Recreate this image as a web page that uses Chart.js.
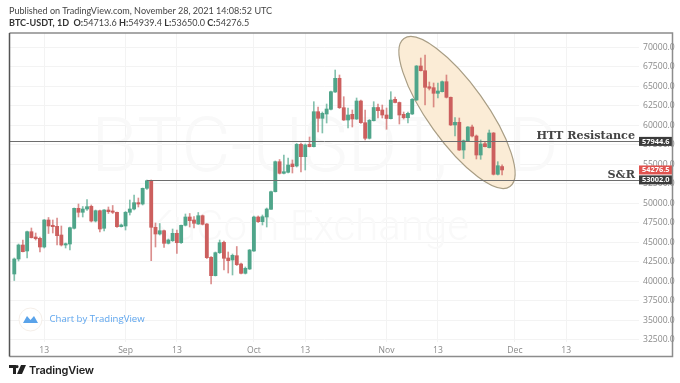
<!DOCTYPE html>
<html>
<head>
<meta charset="utf-8">
<title>BTC-USDT, 1D</title>
<script src="https://cdn.jsdelivr.net/npm/chart.js@4"></script>
<style>
  html, body { margin: 0; padding: 0; background: #fff; }
  #wrap { position: relative; width: 680px; height: 383px; overflow: hidden; filter: blur(.4px); }
  canvas { position: absolute; left: 0; top: 0; }
  .head { position: absolute; left: 9px; color: #444; font: 9.05px Lato, sans-serif; white-space: nowrap; }
  .head b { font-weight: 700; color: #333; }
  #foot { position: absolute; left: 29px; top: 363px; color: #222; font: 600 11px Inter, sans-serif; letter-spacing: -0.2px; }
  #tvmark { position: absolute; left: 9px; top: 365px; }
</style>
</head>
<body>
<div id="wrap">
  <canvas id="c" width="680" height="383"></canvas>
  <div class="head" style="top:5px">Published on TradingView.com, November 28, 2021 14:08:52 UTC</div>
  <div class="head" style="top:17px"><b>BTC-USDT, 1D&nbsp; O:</b>54713.6 <b>H:</b>54939.4 <b>L:</b>53650.0 <b>C:</b>54276.5</div>
  <svg id="tvmark" width="18" height="10" viewBox="0 0 18 10"><path d="M0 0h7v9H4V3H0zM8 9l4-9h5l-4 9zM8 0a1.6 1.6 0 1 1 0 3.2A1.6 1.6 0 0 1 8 0z" fill="#222"/></svg>
  <div id="foot">TradingView</div>
</div>
<script>
// Daily candles, 6 Aug - 28 Nov 2021
const opens = [40917,42843,44641,43871,46349,45668,45501,44384,47851,47171,47042,45925,44641,44769,46786,49353,48840,49263,49610,47723,49045,46786,49135,49007,48840,46991,47081,48840,49263,50073,49905,51921,52897,46914,46053,46476,44859,45193,46143,44936,47171,48236,47851,47337,48404,47337,43062,40699,43652,44987,42972,42715,43267,42201,41007,41559,43871,48236,47633,48236,49224,51484,55337,53847,53976,55041,54785,57571,55979,57571,57263,61757,60909,61461,62065,64286,66045,62270,60691,61423,60819,63130,60345,58341,60601,62296,61975,61333,60858,63349,62938,61423,60986,61461,63259,67625,67021,64967,64838,64119,64325,65609,63606,60049,60396,56839,57995,59792,58636,56197,57648,57135,59022,53719,54713.6];
const highs = [42972,44769,45283,46439,46824,46182,45668,47915,48172,47851,48108,47081,44898,46952,49392,49905,49584,50483,49777,49135,49135,49199,49521,49713,48878,47337,48942,50419,51061,50676,51960,52987,52987,47466,47401,46567,45411,46695,46567,47209,48622,48686,48301,48814,48493,47401,43165,43742,45283,45155,43742,43485,44447,42329,41816,44063,48365,48365,48493,49392,51575,55427,55619,56197,55812,55555,57674,57738,57610,58508,63041,62360,61718,62745,64415,67111,66469,63683,62231,61975,63516,63259,61975,60755,63041,62745,62617,62231,64325,63644,63002,61718,61718,63451,67689,68651,69037,65570,65442,65442,65698,66469,63644,61012,60947,58123,59856,60049,58765,58123,57867,59407,59086,55337,54939.4];
const lows = [40082,42586,43742,42972,45540,45283,43742,44256,46117,46182,44641,44513,44256,43999,46695,48236,48236,49071,47594,47594,46310,46439,48686,48686,46888,46952,46567,48493,49135,49521,49777,51767,42625,44384,45925,44320,44769,45091,43550,44833,47081,46952,46824,47273,47209,42907,39633,40661,43550,41431,41046,40789,42009,40917,40917,41495,43807,47530,47209,46952,49199,51446,53757,53757,53885,53885,54657,54014,54271,57224,57224,59150,59022,60306,61975,64222,62168,60627,59664,59792,60755,60242,58123,58251,60563,60948,60948,59497,60820,62874,60177,60820,60306,61397,63195,66983,62617,64543,62360,63516,64286,63516,59985,58636,56775,55747,57930,58508,55683,55645,57224,57096,53629,53629,53650.0];
const closes = [42843,44641,43781,46349,45578,45450,44384,47851,47081,46991,45835,44641,44808,46863,49353,48840,49263,49559,47723,49045,46696,49135,48917,48840,46991,47209,48840,49263,50073,49905,51921,52897,46914,46053,46476,44859,45283,46143,44936,47171,48236,47761,47427,48404,47299,43010,40699,43652,44936,42933,42625,43318,42111,41007,41649,44000,48236,47633,48275,49263,51484,55337,53847,54053,54913,54696,57571,55979,57481,57263,61757,60909,61551,62103,64325,66045,62270,60691,61333,60819,63130,60345,58341,60653,62296,61885,61333,60884,63259,62938,61333,60986,61551,63349,67625,67021,64890,64761,64119,64415,65609,63606,60049,60396,56839,58033,59792,58636,56197,57610,57263,59022,53719,54823,54276.5];

const priceTicks = [32500,35000,37500,40000,42500,45000,47500,50000,52500,55000,57500,60000,62500,65000,67500,70000];
const dateTickIndex = [8,27,39,57,69,88,100,118,130];
const dateTickLabels = ["13","Sep","13","Oct","13","Nov","13","Dec","13"];

const resistance = 57944.6;
const support = 53002.0;
const lastClose = 54276.5;
const supportStartIndex = 31;

// axis days: 5 Aug - 30 Dec, first slot stays empty
const days = [];
for (let i = 0; i < 148; i++) {
  days.push(new Date(Date.UTC(2021, 7, 5 + i)).toISOString().slice(0, 10));
}

const upColor = "#4fa58a", downColor = "#cc5f5e";
const upWick = "rgba(79,165,138,.7)", downWick = "rgba(204,95,94,.7)";
const candleColor = (ctx, up, down) => {
  const i = ctx.dataIndex - 1;
  return closes[i] >= opens[i] ? up : down;
};

// watermark and peach ellipse go under the candles
const underlay = {
  id: "underlay",
  beforeDatasetsDraw(chart) {
    const g = chart.ctx;
    g.save();
    g.fillStyle = "#f9f9f9";
    g.textBaseline = "middle";
    g.font = "300 76px Roboto, sans-serif";
    g.textAlign = "center";
    g.fillText("BTC-USDT, 1D", 325, 152);
    g.font = "300 42px Roboto, sans-serif";
    g.fillText("KuCoin Exchange", 308, 229);
    g.beginPath();
    g.ellipse(457, 112.5, 91, 29, 54.4 * Math.PI / 180, 0, Math.PI * 2);
    g.fillStyle = "#fbecd6";
    g.fill();
    g.strokeStyle = "#a89d84";
    g.lineWidth = 1.2;
    g.stroke();
    g.restore();
  }
};

function priceBox(g, y, text, color) {
  g.fillStyle = color;
  g.fillRect(639, y - 4.5, 33, 9);
  g.fillStyle = "#fff";
  g.font = "700 7.4px 'Open Sans', sans-serif";
  g.textAlign = "left";
  g.textBaseline = "middle";
  g.fillText(text, 642, y + 0.3);
}

const overlay = {
  id: "overlay",
  afterDraw(chart) {
    const g = chart.ctx, ys = chart.scales.y, xs = chart.scales.x, a = chart.chartArea;
    const yRes = ys.getPixelForValue(resistance), ySup = ys.getPixelForValue(support);
    g.save();
    // cut price labels at the time axis
    g.fillStyle = "#fff";
    g.fillRect(640, a.bottom, 31, 14);

    g.strokeStyle = "#6e6e6e";
    g.lineWidth = 1;
    g.beginPath();
    g.moveTo(a.left, Math.round(yRes) + .5); g.lineTo(a.right, Math.round(yRes) + .5);
    g.moveTo(xs.getPixelForValue(supportStartIndex + 1), Math.round(ySup) + .5); g.lineTo(a.right, Math.round(ySup) + .5);
    g.stroke();

    g.fillStyle = "#444";
    g.font = "700 11.2px 'DejaVu Serif', serif";
    g.textAlign = "right";
    g.textBaseline = "alphabetic";
    g.fillText("HTT Resistance", 635, 139);
    g.fillText("S&R", 635, 178);

    priceBox(g, yRes, "57944.6", "#3b3b3b");
    priceBox(g, ys.getPixelForValue(lastClose), "54276.5", "#e0534f");
    priceBox(g, ySup, "53002.0", "#3b3b3b");

    // TradingView badge
    g.beginPath();
    g.arc(30.5, 319.5, 11.5, 0, Math.PI * 2);
    g.fillStyle = "#fff"; g.fill();
    g.strokeStyle = "#f4eee8"; g.stroke();
    g.fillStyle = "#5aa3ea";
    g.beginPath();
    g.moveTo(23, 323); g.lineTo(27, 316); g.lineTo(30.5, 320); g.lineTo(34, 316); g.lineTo(38, 323);
    g.closePath(); g.fill();
    g.font = "9.6px 'Open Sans', sans-serif";
    g.fillStyle = "#5fa6ee";
    g.textAlign = "left";
    g.textBaseline = "middle";
    g.fillText("Chart by TradingView", 49.5, 319);

    // frame
    g.strokeStyle = "#8c8c8c";
    g.lineWidth = 1.5;
    g.beginPath();
    g.moveTo(9.5, 33); g.lineTo(672.5, 33); g.lineTo(672.5, 356.5); g.lineTo(9.5, 356.5);
    g.stroke();
    g.strokeStyle = "#555";
    g.beginPath();
    g.moveTo(9.5, 33); g.lineTo(9.5, 356.5);
    g.stroke();
    g.restore();
  }
};

new Chart(document.getElementById("c").getContext("2d"), {
  type: "bar",
  data: {
    labels: days,
    datasets: [
      { label: "body", data: [null].concat(opens.map((o, i) => [o, closes[i]])), grouped: false, barThickness: 3.2,
        backgroundColor: ctx => candleColor(ctx, upColor, downColor) },
      { label: "wick", data: [null].concat(lows.map((l, i) => [l, highs[i]])), grouped: false, barThickness: 1,
        backgroundColor: ctx => candleColor(ctx, upWick, downWick) }
    ]
  },
  options: {
    responsive: false,
    animation: false,
    devicePixelRatio: 1,
    layout: { padding: { left: 10, top: 33 } },
    plugins: { legend: { display: false }, tooltip: { enabled: false } },
    scales: {
      x: {
        offset: false,
        grid: { offset: false, color: "#f3f3f3", drawTicks: false },
        border: { display: false },
        afterBuildTicks: scale => { scale.ticks = dateTickIndex.map(v => ({ value: v })); },
        afterFit: scale => { scale.height = 41; },
        ticks: {
          autoSkip: false, maxRotation: 0, padding: 3, color: "#8a8a8a",
          font: { size: 8.6, family: "'Open Sans', sans-serif" },
          callback: (v, i) => dateTickLabels[i]
        }
      },
      y: {
        position: "right",
        min: 32186,
        max: 71862,
        grid: { color: "#f3f3f3", drawTicks: false },
        border: { display: false },
        afterBuildTicks: scale => { scale.ticks = priceTicks.map(v => ({ value: v })); },
        afterFit: scale => { scale.width = 41; },
        ticks: {
          padding: 4, color: "#8a8a8a",
          font: { size: 8.6, family: "'Open Sans', sans-serif" },
          callback: v => v.toFixed(1)
        }
      }
    }
  },
  plugins: [underlay, overlay]
});
</script>
</body>
</html>
